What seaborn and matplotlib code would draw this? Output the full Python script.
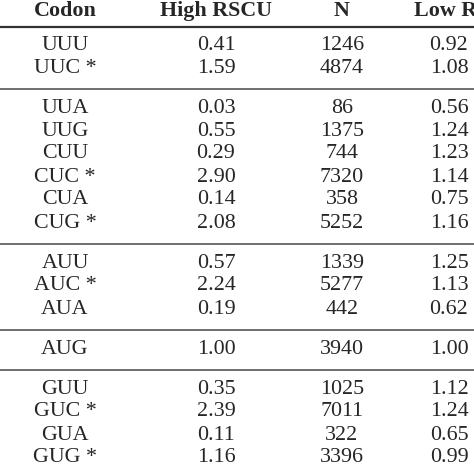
import matplotlib
matplotlib.use("Agg")
import matplotlib.pyplot as plt
import seaborn as sns

sns.set_style("white")
plt.rcParams['font.family'] = ['Liberation Serif', 'DejaVu Serif']

headers = ["Codon", "High RSCU", "N", "Low RSCU"]
groups = [
    ["UUU", "UUC *"],
    ["UUA", "UUG", "CUU", "CUC *", "CUA", "CUG *"],
    ["AUU", "AUC *", "AUA"],
    ["AUG"],
    ["GUU", "GUC *", "GUA", "GUG *"],
]
high_rscu = ["0.41", "1.59", "0.03", "0.55", "0.29", "2.90", "0.14", "2.08",
             "0.57", "2.24", "0.19", "1.00", "0.35", "2.39", "0.11", "1.16"]
n_vals = ["1246", "4874", "86", "1375", "744", "7320", "358", "5252",
          "1339", "5277", "442", "3940", "1025", "7011", "322", "3396"]
low_rscu = ["0.92", "1.08", "0.56", "1.24", "1.23", "1.14", "0.75", "1.16",
            "1.25", "1.13", "0.62", "1.00", "1.12", "1.24", "0.65", "0.99"]

fig = plt.figure(figsize=(4.74, 4.74), dpi=100)
ax = fig.add_axes([0, 0, 1, 1])
ax.set_xlim(0, 474)
ax.set_ylim(474, 0)
ax.axis("off")

col_x = [65, 216, 342, 468]
fs = 15.8
for x, h in zip(col_x, headers):
    ax.text(x, 11, h, ha="center", va="center", fontsize=fs, fontweight="bold")
ax.axhline(26.5, color="#333333", lw=1.6)

pitch = 23.0
y = 45
i = 0
for gi, g in enumerate(groups):
    if gi > 0:
        line_y = y - pitch + 21
        ax.axhline(line_y, color="#555555", lw=1.2)
        y = line_y + 19
    for codon in g:
        ax.text(col_x[0], y, codon, ha="center", va="center", fontsize=fs)
        ax.text(col_x[1], y, high_rscu[i], ha="center", va="center", fontsize=fs)
        ax.text(col_x[2], y, n_vals[i], ha="center", va="center", fontsize=fs)
        ax.text(449, y, low_rscu[i], ha="center", va="center", fontsize=fs)
        y += pitch
        i += 1

fig.savefig("out.png", dpi=100)
